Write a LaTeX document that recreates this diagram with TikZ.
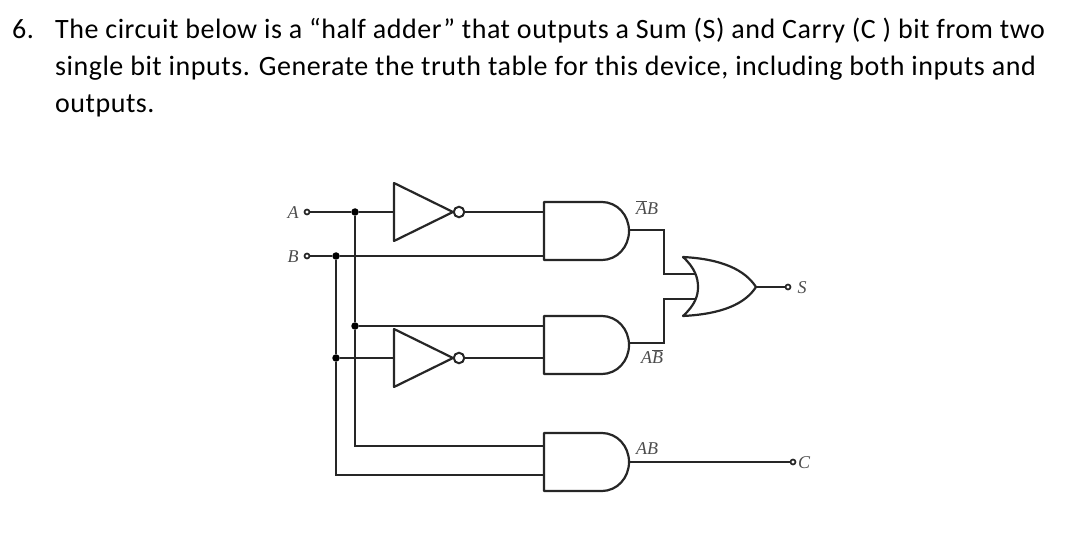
\documentclass[tikz,border=0pt]{standalone}
\usepackage{fontspec}
\setmainfont[LetterSpace=1.9]{Carlito}
\newfontfamily\lblfont{Liberation Serif}
\newcommand{\lb}[1]{{\lblfont\itshape #1}}
\newcommand{\ovl}[1]{$\overline{\hbox{\lblfont\itshape #1}}$}
\tikzset{
  wire/.style={line width=2.2pt,draw=black!85},
  gate/.style={line width=2.2pt,draw=black!85,fill=white,line join=round},
  bubble/.style={circle,draw=black!85,line width=2pt,fill=white,minimum size=10.5pt,inner sep=0pt},
  term/.style={circle,draw=black!85,line width=1.7pt,fill=white,minimum size=5pt,inner sep=0pt},
  dotj/.style={circle,fill=black,minimum size=7.5pt,inner sep=0pt},
  body/.style={anchor=base west,inner sep=0pt,font=\fontsize{28pt}{30pt}\selectfont,text=black},
  lab/.style={inner sep=0pt,font=\fontsize{18pt}{20pt}\selectfont,text=black!70}
}
\begin{document}
\begin{tikzpicture}[x=1pt,y=-1pt]
\useasboundingbox (0,0) rectangle (1077,548);
% text
\node[body] (n6) at (12,39) {6.};
\node[body] (l1) at (55,39) {The circuit below is a “half adder” that outputs a Sum (S) and Carry (C ) bit from two};
\node[body] (l2) at (55,76) {single bit inputs. Generate the truth table for this device, including both inputs and};
\node[body] (l3) at (55,113) {outputs.};
% terminals and junctions
\node[term] (ta) at (307,212) {};
\node[term] (tb) at (307,256) {};
\node[dotj] (ja) at (355,212) {};
\node[dotj] (jb) at (336,256) {};
\node[dotj] (ja2) at (355,326) {};
\node[dotj] (jb2) at (336,358) {};
\coordinate (a3) at (355,446);
\coordinate (b3) at (336,475);
% pins
\coordinate (i1in) at (394,212);
\coordinate (i2in) at (394,358);
\coordinate (g1a) at (544,212);
\coordinate (g1b) at (544,256);
\coordinate (g2a) at (544,326);
\coordinate (g2b) at (544,358);
\coordinate (g3a) at (544,446);
\coordinate (g3b) at (544,475);
\coordinate (g1o) at (629,230);
\coordinate (g2o) at (629,343);
\coordinate (g3o) at (629,462);
\coordinate (k1) at (664,230);
\coordinate (k2) at (664,274);
\coordinate (k3) at (664,343);
\coordinate (k4) at (664,299);
\coordinate (o1) at (697,274);
\coordinate (o2) at (697,299);
\coordinate (oo) at (756,287);
\node[term] (ts) at (788,287) {};
\node[term] (tc) at (793,462) {};
% wires
\draw[wire] (ta) -- (ja) -- (i1in);
\draw[wire] (tb) -- (jb) -- (g1b);
\draw[wire] (ja) -- (ja2) -- (a3) -- (g3a);
\draw[wire] (jb) -- (jb2) -- (b3) -- (g3b);
\draw[wire] (ja2) -- (g2a);
\draw[wire] (jb2) -- (i2in);
\draw[wire] (g1o) -- (k1) -- (k2) -- (o1);
\draw[wire] (g2o) -- (k3) -- (k4) -- (o2);
\draw[wire] (g3o) -- (tc);
\draw[wire] (oo) -- (ts);
% inverters
\draw[gate] (394,183) -- (453,212) -- (394,241) -- cycle;
\node[bubble] (b1) at (459,212) {};
\draw[wire] (b1) -- (g1a);
\draw[gate] (394,329) -- (453,358) -- (394,387) -- cycle;
\node[bubble] (b2) at (459,358) {};
\draw[wire] (b2) -- (g2b);
% AND gates
\draw[gate] (544,202) -- (602,202) .. controls (617,202) and (629,215) .. (629,231) .. controls (629,247) and (617,260) .. (602,260) -- (544,260) -- cycle;
\draw[gate] (544,316) -- (602,316) .. controls (617,316) and (629,329) .. (629,345) .. controls (629,361) and (617,374) .. (602,374) -- (544,374) -- cycle;
\draw[gate] (544,433) -- (602,433) .. controls (617,433) and (629,446) .. (629,462) .. controls (629,478) and (617,491) .. (602,491) -- (544,491) -- cycle;
% OR gate
\draw[gate] (683,257) .. controls (722,259) and (745,270) .. (756,287)
  .. controls (745,304) and (722,314) .. (683,316)
  .. controls (695,305) and (698,296) .. (698,287)
  .. controls (698,278) and (695,268) .. (683,257) -- cycle;
% labels
\node[lab] (la) at (293,213) {\lb{A}};
\node[lab] (lbb) at (293,257) {\lb{B}};
\node[lab] (ls) at (802,288) {\lb{S}};
\node[lab] (lc) at (804,463) {\lb{C}};
\node[lab] (n1) at (647,208) {\ovl{A}\lb{B}};
\node[lab] (n2) at (652,357) {\lb{A}\ovl{B}};
\node[lab] (n3) at (647,449) {\lb{AB}};
\end{tikzpicture}
\end{document}
